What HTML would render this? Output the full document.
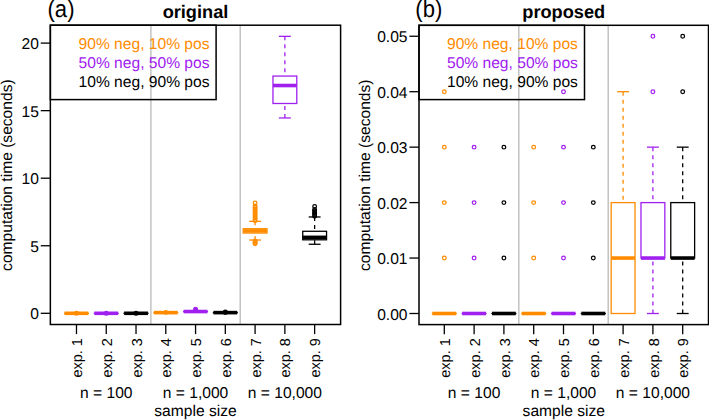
<!DOCTYPE html>
<html><head><meta charset="utf-8"><style>
html,body{margin:0;padding:0;background:#fff;}
body{width:709px;height:420px;overflow:hidden;}
svg{display:block;}
text{font-family:"Liberation Sans",sans-serif;text-rendering:geometricPrecision;}
.t{font-size:15.6px;}
.te{font-size:14.5px;}
.ti{font-size:18.2px;font-weight:bold;}
.tag{font-size:24px;}
</style></head><body>
<svg width="709" height="420" viewBox="0 0 709 420">
<line x1="150.90" y1="25.2" x2="150.90" y2="324.5" stroke="#BEBEBE" stroke-width="1.4"/>
<line x1="240.21" y1="25.2" x2="240.21" y2="324.5" stroke="#BEBEBE" stroke-width="1.4"/>
<rect x="64.57" y="313.30" width="23.82" height="0.01" fill="none" stroke="#FF8C00" stroke-width="1.3"/>
<line x1="64.57" y1="313.30" x2="88.38" y2="313.30" stroke="#FF8C00" stroke-width="3.6"/>
<circle cx="76.48" cy="313.30" r="2.5" fill="#FF8C00"/>
<rect x="94.34" y="313.30" width="23.82" height="0.01" fill="none" stroke="#A020F0" stroke-width="1.3"/>
<line x1="94.34" y1="313.30" x2="118.15" y2="313.30" stroke="#A020F0" stroke-width="3.6"/>
<circle cx="106.25" cy="313.30" r="2.5" fill="#A020F0"/>
<rect x="124.11" y="313.30" width="23.82" height="0.01" fill="none" stroke="#000000" stroke-width="1.3"/>
<line x1="124.11" y1="313.30" x2="147.92" y2="313.30" stroke="#000000" stroke-width="3.6"/>
<circle cx="136.02" cy="313.30" r="2.5" fill="#000000"/>
<rect x="153.88" y="312.62" width="23.82" height="0.01" fill="none" stroke="#FF8C00" stroke-width="1.3"/>
<line x1="153.88" y1="312.62" x2="177.69" y2="312.62" stroke="#FF8C00" stroke-width="3.6"/>
<circle cx="165.78" cy="312.40" r="2.3" fill="#FF8C00"/>
<rect x="183.65" y="311.54" width="23.82" height="0.01" fill="none" stroke="#A020F0" stroke-width="1.3"/>
<line x1="183.65" y1="311.54" x2="207.46" y2="311.54" stroke="#A020F0" stroke-width="3.6"/>
<circle cx="195.56" cy="309.30" r="2.5" fill="#A020F0"/>
<rect x="213.42" y="312.62" width="23.82" height="0.01" fill="none" stroke="#000000" stroke-width="1.3"/>
<line x1="213.42" y1="312.62" x2="237.23" y2="312.62" stroke="#000000" stroke-width="3.6"/>
<circle cx="225.32" cy="312.20" r="2.6" fill="#000000"/>
<line x1="255.09" y1="221.34" x2="255.09" y2="228.73" stroke="#FF8C00" stroke-width="1.3" stroke-dasharray="4 4"/>
<line x1="249.14" y1="221.34" x2="261.05" y2="221.34" stroke="#FF8C00" stroke-width="1.3"/>
<line x1="255.09" y1="240.02" x2="255.09" y2="233.05" stroke="#FF8C00" stroke-width="1.3" stroke-dasharray="4 4"/>
<line x1="249.14" y1="240.02" x2="261.05" y2="240.02" stroke="#FF8C00" stroke-width="1.3"/>
<rect x="243.19" y="228.73" width="23.82" height="4.32" fill="none" stroke="#FF8C00" stroke-width="1.3"/>
<line x1="243.19" y1="230.89" x2="267.00" y2="230.89" stroke="#FF8C00" stroke-width="3.6"/>
<circle cx="255.09" cy="202.92" r="1.85" fill="none" stroke="#FF8C00" stroke-width="1.25"/>
<circle cx="255.09" cy="220.76" r="1.85" fill="none" stroke="#FF8C00" stroke-width="1.25"/>
<circle cx="255.09" cy="219.41" r="1.85" fill="none" stroke="#FF8C00" stroke-width="1.25"/>
<circle cx="255.09" cy="218.05" r="1.85" fill="none" stroke="#FF8C00" stroke-width="1.25"/>
<circle cx="255.09" cy="216.70" r="1.85" fill="none" stroke="#FF8C00" stroke-width="1.25"/>
<circle cx="255.09" cy="215.35" r="1.85" fill="none" stroke="#FF8C00" stroke-width="1.25"/>
<circle cx="255.09" cy="214.00" r="1.85" fill="none" stroke="#FF8C00" stroke-width="1.25"/>
<circle cx="255.09" cy="212.65" r="1.85" fill="none" stroke="#FF8C00" stroke-width="1.25"/>
<circle cx="255.09" cy="211.30" r="1.85" fill="none" stroke="#FF8C00" stroke-width="1.25"/>
<circle cx="255.09" cy="209.95" r="1.85" fill="none" stroke="#FF8C00" stroke-width="1.25"/>
<circle cx="255.09" cy="208.60" r="1.85" fill="none" stroke="#FF8C00" stroke-width="1.25"/>
<circle cx="255.09" cy="207.25" r="1.85" fill="none" stroke="#FF8C00" stroke-width="1.25"/>
<circle cx="255.09" cy="205.90" r="1.85" fill="none" stroke="#FF8C00" stroke-width="1.25"/>
<circle cx="255.09" cy="240.89" r="1.85" fill="none" stroke="#FF8C00" stroke-width="1.25"/>
<circle cx="255.09" cy="241.97" r="1.85" fill="none" stroke="#FF8C00" stroke-width="1.25"/>
<circle cx="255.09" cy="243.05" r="1.85" fill="none" stroke="#FF8C00" stroke-width="1.25"/>
<circle cx="255.09" cy="243.72" r="1.85" fill="none" stroke="#FF8C00" stroke-width="1.25"/>
<line x1="284.87" y1="36.35" x2="284.87" y2="76.06" stroke="#A020F0" stroke-width="1.3" stroke-dasharray="4 4"/>
<line x1="278.91" y1="36.35" x2="290.82" y2="36.35" stroke="#A020F0" stroke-width="1.3"/>
<line x1="284.87" y1="117.95" x2="284.87" y2="103.49" stroke="#A020F0" stroke-width="1.3" stroke-dasharray="4 4"/>
<line x1="278.91" y1="117.95" x2="290.82" y2="117.95" stroke="#A020F0" stroke-width="1.3"/>
<rect x="272.96" y="76.06" width="23.82" height="27.43" fill="none" stroke="#A020F0" stroke-width="1.3"/>
<line x1="272.96" y1="85.52" x2="296.77" y2="85.52" stroke="#A020F0" stroke-width="3.6"/>
<line x1="314.63" y1="216.97" x2="314.63" y2="231.29" stroke="#000000" stroke-width="1.3" stroke-dasharray="4 4"/>
<line x1="308.68" y1="216.97" x2="320.59" y2="216.97" stroke="#000000" stroke-width="1.3"/>
<line x1="314.63" y1="244.26" x2="314.63" y2="239.81" stroke="#000000" stroke-width="1.3" stroke-dasharray="4 4"/>
<line x1="308.68" y1="244.26" x2="320.59" y2="244.26" stroke="#000000" stroke-width="1.3"/>
<rect x="302.73" y="231.29" width="23.82" height="8.51" fill="none" stroke="#000000" stroke-width="1.3"/>
<line x1="302.73" y1="237.37" x2="326.54" y2="237.37" stroke="#000000" stroke-width="3.6"/>
<circle cx="314.63" cy="206.44" r="1.85" fill="none" stroke="#000000" stroke-width="1.25"/>
<circle cx="314.63" cy="216.30" r="1.85" fill="none" stroke="#000000" stroke-width="1.25"/>
<circle cx="314.63" cy="214.95" r="1.85" fill="none" stroke="#000000" stroke-width="1.25"/>
<circle cx="314.63" cy="213.60" r="1.85" fill="none" stroke="#000000" stroke-width="1.25"/>
<circle cx="314.63" cy="212.25" r="1.85" fill="none" stroke="#000000" stroke-width="1.25"/>
<circle cx="314.63" cy="210.89" r="1.85" fill="none" stroke="#000000" stroke-width="1.25"/>
<circle cx="314.63" cy="209.54" r="1.85" fill="none" stroke="#000000" stroke-width="1.25"/>
<rect x="50.35" y="25.2" width="290.25" height="299.30" fill="none" stroke="#000" stroke-width="1.5"/>
<line x1="40.75" y1="313.30" x2="50.35" y2="313.30" stroke="#000" stroke-width="1.3"/>
<text transform="translate(38.85,319.30) scale(1,1.0)" text-anchor="end" class="t">0</text>
<line x1="40.75" y1="245.75" x2="50.35" y2="245.75" stroke="#000" stroke-width="1.3"/>
<text transform="translate(38.85,251.75) scale(1,1.0)" text-anchor="end" class="t">5</text>
<line x1="40.75" y1="178.20" x2="50.35" y2="178.20" stroke="#000" stroke-width="1.3"/>
<text transform="translate(38.85,184.20) scale(1,1.0)" text-anchor="end" class="t">10</text>
<line x1="40.75" y1="110.65" x2="50.35" y2="110.65" stroke="#000" stroke-width="1.3"/>
<text transform="translate(38.85,116.65) scale(1,1.0)" text-anchor="end" class="t">15</text>
<line x1="40.75" y1="43.10" x2="50.35" y2="43.10" stroke="#000" stroke-width="1.3"/>
<text transform="translate(38.85,49.10) scale(1,1.0)" text-anchor="end" class="t">20</text>
<line x1="76.48" y1="324.5" x2="76.48" y2="334.10" stroke="#000" stroke-width="1.3"/>
<text transform="translate(82.08,338.10) rotate(-90) scale(1,1.0)" text-anchor="end" class="te">exp. 1</text>
<line x1="106.25" y1="324.5" x2="106.25" y2="334.10" stroke="#000" stroke-width="1.3"/>
<text transform="translate(111.84,338.10) rotate(-90) scale(1,1.0)" text-anchor="end" class="te">exp. 2</text>
<line x1="136.02" y1="324.5" x2="136.02" y2="334.10" stroke="#000" stroke-width="1.3"/>
<text transform="translate(141.62,338.10) rotate(-90) scale(1,1.0)" text-anchor="end" class="te">exp. 3</text>
<line x1="165.78" y1="324.5" x2="165.78" y2="334.10" stroke="#000" stroke-width="1.3"/>
<text transform="translate(171.38,338.10) rotate(-90) scale(1,1.0)" text-anchor="end" class="te">exp. 4</text>
<line x1="195.56" y1="324.5" x2="195.56" y2="334.10" stroke="#000" stroke-width="1.3"/>
<text transform="translate(201.16,338.10) rotate(-90) scale(1,1.0)" text-anchor="end" class="te">exp. 5</text>
<line x1="225.32" y1="324.5" x2="225.32" y2="334.10" stroke="#000" stroke-width="1.3"/>
<text transform="translate(230.92,338.10) rotate(-90) scale(1,1.0)" text-anchor="end" class="te">exp. 6</text>
<line x1="255.09" y1="324.5" x2="255.09" y2="334.10" stroke="#000" stroke-width="1.3"/>
<text transform="translate(260.69,338.10) rotate(-90) scale(1,1.0)" text-anchor="end" class="te">exp. 7</text>
<line x1="284.87" y1="324.5" x2="284.87" y2="334.10" stroke="#000" stroke-width="1.3"/>
<text transform="translate(290.47,338.10) rotate(-90) scale(1,1.0)" text-anchor="end" class="te">exp. 8</text>
<line x1="314.63" y1="324.5" x2="314.63" y2="334.10" stroke="#000" stroke-width="1.3"/>
<text transform="translate(320.24,338.10) rotate(-90) scale(1,1.0)" text-anchor="end" class="te">exp. 9</text>
<text transform="translate(106.25,397.95) scale(1,1.0)" text-anchor="middle" class="t">n = 100</text>
<text transform="translate(195.56,397.95) scale(1,1.0)" text-anchor="middle" class="t">n = 1,000</text>
<text transform="translate(284.87,397.95) scale(1,1.0)" text-anchor="middle" class="t">n = 10,000</text>
<text transform="translate(195.48,416.35) scale(1,1.0)" text-anchor="middle" class="t">sample size</text>
<text transform="translate(11.80,175.15) rotate(-90) scale(1,1.0)" text-anchor="middle" class="t">computation time (seconds)</text>
<text transform="translate(47.50,16.7) scale(0.92,1)" class="tag">(a)</text>
<text x="195.48" y="18" text-anchor="middle" class="ti">original</text>
<rect x="50.35" y="25.2" width="165.75" height="74.40" fill="none" stroke="#000" stroke-width="1.5"/>
<text transform="translate(209.50,49.40) scale(1,1.0)" text-anchor="end" class="t" fill="#FF8C00">90% neg, 10% pos</text>
<text transform="translate(209.50,68.20) scale(1,1.0)" text-anchor="end" class="t" fill="#A020F0">50% neg, 50% pos</text>
<text transform="translate(209.50,87.00) scale(1,1.0)" text-anchor="end" class="t" fill="#000000">10% neg, 90% pos</text>
<line x1="518.80" y1="25.3" x2="518.80" y2="324.6" stroke="#BEBEBE" stroke-width="1.4"/>
<line x1="608.20" y1="25.3" x2="608.20" y2="324.6" stroke="#BEBEBE" stroke-width="1.4"/>
<rect x="432.38" y="313.50" width="23.84" height="0.01" fill="none" stroke="#FF8C00" stroke-width="1.3"/>
<line x1="432.38" y1="313.50" x2="456.22" y2="313.50" stroke="#FF8C00" stroke-width="3.6"/>
<circle cx="444.30" cy="258.05" r="1.85" fill="none" stroke="#FF8C00" stroke-width="1.25"/>
<circle cx="444.30" cy="202.60" r="1.85" fill="none" stroke="#FF8C00" stroke-width="1.25"/>
<circle cx="444.30" cy="147.15" r="1.85" fill="none" stroke="#FF8C00" stroke-width="1.25"/>
<circle cx="444.30" cy="91.70" r="1.85" fill="none" stroke="#FF8C00" stroke-width="1.25"/>
<rect x="462.18" y="313.50" width="23.84" height="0.01" fill="none" stroke="#A020F0" stroke-width="1.3"/>
<line x1="462.18" y1="313.50" x2="486.02" y2="313.50" stroke="#A020F0" stroke-width="3.6"/>
<circle cx="474.10" cy="258.05" r="1.85" fill="none" stroke="#A020F0" stroke-width="1.25"/>
<circle cx="474.10" cy="202.60" r="1.85" fill="none" stroke="#A020F0" stroke-width="1.25"/>
<circle cx="474.10" cy="147.15" r="1.85" fill="none" stroke="#A020F0" stroke-width="1.25"/>
<rect x="491.98" y="313.50" width="23.84" height="0.01" fill="none" stroke="#000000" stroke-width="1.3"/>
<line x1="491.98" y1="313.50" x2="515.82" y2="313.50" stroke="#000000" stroke-width="3.6"/>
<circle cx="503.90" cy="258.05" r="1.85" fill="none" stroke="#000000" stroke-width="1.25"/>
<circle cx="503.90" cy="202.60" r="1.85" fill="none" stroke="#000000" stroke-width="1.25"/>
<circle cx="503.90" cy="147.15" r="1.85" fill="none" stroke="#000000" stroke-width="1.25"/>
<rect x="521.78" y="313.50" width="23.84" height="0.01" fill="none" stroke="#FF8C00" stroke-width="1.3"/>
<line x1="521.78" y1="313.50" x2="545.62" y2="313.50" stroke="#FF8C00" stroke-width="3.6"/>
<circle cx="533.70" cy="258.05" r="1.85" fill="none" stroke="#FF8C00" stroke-width="1.25"/>
<circle cx="533.70" cy="202.60" r="1.85" fill="none" stroke="#FF8C00" stroke-width="1.25"/>
<circle cx="533.70" cy="147.15" r="1.85" fill="none" stroke="#FF8C00" stroke-width="1.25"/>
<rect x="551.58" y="313.50" width="23.84" height="0.01" fill="none" stroke="#A020F0" stroke-width="1.3"/>
<line x1="551.58" y1="313.50" x2="575.42" y2="313.50" stroke="#A020F0" stroke-width="3.6"/>
<circle cx="563.50" cy="258.05" r="1.85" fill="none" stroke="#A020F0" stroke-width="1.25"/>
<circle cx="563.50" cy="202.60" r="1.85" fill="none" stroke="#A020F0" stroke-width="1.25"/>
<circle cx="563.50" cy="147.15" r="1.85" fill="none" stroke="#A020F0" stroke-width="1.25"/>
<circle cx="563.50" cy="91.70" r="1.85" fill="none" stroke="#A020F0" stroke-width="1.25"/>
<rect x="581.38" y="313.50" width="23.84" height="0.01" fill="none" stroke="#000000" stroke-width="1.3"/>
<line x1="581.38" y1="313.50" x2="605.22" y2="313.50" stroke="#000000" stroke-width="3.6"/>
<circle cx="593.30" cy="258.05" r="1.85" fill="none" stroke="#000000" stroke-width="1.25"/>
<circle cx="593.30" cy="202.60" r="1.85" fill="none" stroke="#000000" stroke-width="1.25"/>
<circle cx="593.30" cy="147.15" r="1.85" fill="none" stroke="#000000" stroke-width="1.25"/>
<line x1="623.10" y1="91.70" x2="623.10" y2="202.60" stroke="#FF8C00" stroke-width="1.3" stroke-dasharray="4 4"/>
<line x1="617.14" y1="91.70" x2="629.06" y2="91.70" stroke="#FF8C00" stroke-width="1.3"/>
<rect x="611.18" y="202.60" width="23.84" height="110.90" fill="none" stroke="#FF8C00" stroke-width="1.3"/>
<line x1="611.18" y1="258.05" x2="635.02" y2="258.05" stroke="#FF8C00" stroke-width="3.6"/>
<line x1="652.90" y1="147.15" x2="652.90" y2="202.60" stroke="#A020F0" stroke-width="1.3" stroke-dasharray="4 4"/>
<line x1="646.94" y1="147.15" x2="658.86" y2="147.15" stroke="#A020F0" stroke-width="1.3"/>
<line x1="652.90" y1="313.50" x2="652.90" y2="258.05" stroke="#A020F0" stroke-width="1.3" stroke-dasharray="4 4"/>
<line x1="646.94" y1="313.50" x2="658.86" y2="313.50" stroke="#A020F0" stroke-width="1.3"/>
<rect x="640.98" y="202.60" width="23.84" height="55.45" fill="none" stroke="#A020F0" stroke-width="1.3"/>
<line x1="640.98" y1="258.05" x2="664.82" y2="258.05" stroke="#A020F0" stroke-width="3.6"/>
<circle cx="652.90" cy="91.70" r="1.85" fill="none" stroke="#A020F0" stroke-width="1.25"/>
<circle cx="652.90" cy="36.25" r="1.85" fill="none" stroke="#A020F0" stroke-width="1.25"/>
<line x1="682.70" y1="147.15" x2="682.70" y2="202.60" stroke="#000000" stroke-width="1.3" stroke-dasharray="4 4"/>
<line x1="676.74" y1="147.15" x2="688.66" y2="147.15" stroke="#000000" stroke-width="1.3"/>
<line x1="682.70" y1="313.50" x2="682.70" y2="258.05" stroke="#000000" stroke-width="1.3" stroke-dasharray="4 4"/>
<line x1="676.74" y1="313.50" x2="688.66" y2="313.50" stroke="#000000" stroke-width="1.3"/>
<rect x="670.78" y="202.60" width="23.84" height="55.45" fill="none" stroke="#000000" stroke-width="1.3"/>
<line x1="670.78" y1="258.05" x2="694.62" y2="258.05" stroke="#000000" stroke-width="3.6"/>
<circle cx="682.70" cy="91.70" r="1.85" fill="none" stroke="#000000" stroke-width="1.25"/>
<circle cx="682.70" cy="36.25" r="1.85" fill="none" stroke="#000000" stroke-width="1.25"/>
<rect x="419.0" y="25.3" width="289.50" height="299.30" fill="none" stroke="#000" stroke-width="1.5"/>
<line x1="409.40" y1="313.50" x2="419.0" y2="313.50" stroke="#000" stroke-width="1.3"/>
<text transform="translate(407.50,319.50) scale(1,1.0)" text-anchor="end" class="t">0.00</text>
<line x1="409.40" y1="258.05" x2="419.0" y2="258.05" stroke="#000" stroke-width="1.3"/>
<text transform="translate(407.50,264.05) scale(1,1.0)" text-anchor="end" class="t">0.01</text>
<line x1="409.40" y1="202.60" x2="419.0" y2="202.60" stroke="#000" stroke-width="1.3"/>
<text transform="translate(407.50,208.60) scale(1,1.0)" text-anchor="end" class="t">0.02</text>
<line x1="409.40" y1="147.15" x2="419.0" y2="147.15" stroke="#000" stroke-width="1.3"/>
<text transform="translate(407.50,153.15) scale(1,1.0)" text-anchor="end" class="t">0.03</text>
<line x1="409.40" y1="91.70" x2="419.0" y2="91.70" stroke="#000" stroke-width="1.3"/>
<text transform="translate(407.50,97.70) scale(1,1.0)" text-anchor="end" class="t">0.04</text>
<line x1="409.40" y1="36.25" x2="419.0" y2="36.25" stroke="#000" stroke-width="1.3"/>
<text transform="translate(407.50,42.25) scale(1,1.0)" text-anchor="end" class="t">0.05</text>
<line x1="444.30" y1="324.6" x2="444.30" y2="334.20" stroke="#000" stroke-width="1.3"/>
<text transform="translate(449.90,338.20) rotate(-90) scale(1,1.0)" text-anchor="end" class="te">exp. 1</text>
<line x1="474.10" y1="324.6" x2="474.10" y2="334.20" stroke="#000" stroke-width="1.3"/>
<text transform="translate(479.70,338.20) rotate(-90) scale(1,1.0)" text-anchor="end" class="te">exp. 2</text>
<line x1="503.90" y1="324.6" x2="503.90" y2="334.20" stroke="#000" stroke-width="1.3"/>
<text transform="translate(509.50,338.20) rotate(-90) scale(1,1.0)" text-anchor="end" class="te">exp. 3</text>
<line x1="533.70" y1="324.6" x2="533.70" y2="334.20" stroke="#000" stroke-width="1.3"/>
<text transform="translate(539.30,338.20) rotate(-90) scale(1,1.0)" text-anchor="end" class="te">exp. 4</text>
<line x1="563.50" y1="324.6" x2="563.50" y2="334.20" stroke="#000" stroke-width="1.3"/>
<text transform="translate(569.10,338.20) rotate(-90) scale(1,1.0)" text-anchor="end" class="te">exp. 5</text>
<line x1="593.30" y1="324.6" x2="593.30" y2="334.20" stroke="#000" stroke-width="1.3"/>
<text transform="translate(598.90,338.20) rotate(-90) scale(1,1.0)" text-anchor="end" class="te">exp. 6</text>
<line x1="623.10" y1="324.6" x2="623.10" y2="334.20" stroke="#000" stroke-width="1.3"/>
<text transform="translate(628.70,338.20) rotate(-90) scale(1,1.0)" text-anchor="end" class="te">exp. 7</text>
<line x1="652.90" y1="324.6" x2="652.90" y2="334.20" stroke="#000" stroke-width="1.3"/>
<text transform="translate(658.50,338.20) rotate(-90) scale(1,1.0)" text-anchor="end" class="te">exp. 8</text>
<line x1="682.70" y1="324.6" x2="682.70" y2="334.20" stroke="#000" stroke-width="1.3"/>
<text transform="translate(688.30,338.20) rotate(-90) scale(1,1.0)" text-anchor="end" class="te">exp. 9</text>
<text transform="translate(474.10,397.95) scale(1,1.0)" text-anchor="middle" class="t">n = 100</text>
<text transform="translate(563.50,397.95) scale(1,1.0)" text-anchor="middle" class="t">n = 1,000</text>
<text transform="translate(652.90,397.95) scale(1,1.0)" text-anchor="middle" class="t">n = 10,000</text>
<text transform="translate(563.75,416.35) scale(1,1.0)" text-anchor="middle" class="t">sample size</text>
<text transform="translate(369.50,175.25) rotate(-90) scale(1,1.0)" text-anchor="middle" class="t">computation time (seconds)</text>
<text transform="translate(415.30,16.7) scale(0.92,1)" class="tag">(b)</text>
<text x="563.75" y="18" text-anchor="middle" class="ti">proposed</text>
<rect x="419.0" y="25.3" width="165.50" height="74.30" fill="none" stroke="#000" stroke-width="1.5"/>
<text transform="translate(577.90,49.40) scale(1,1.0)" text-anchor="end" class="t" fill="#FF8C00">90% neg, 10% pos</text>
<text transform="translate(577.90,68.20) scale(1,1.0)" text-anchor="end" class="t" fill="#A020F0">50% neg, 50% pos</text>
<text transform="translate(577.90,87.00) scale(1,1.0)" text-anchor="end" class="t" fill="#000000">10% neg, 90% pos</text>
</svg>
</body></html>
